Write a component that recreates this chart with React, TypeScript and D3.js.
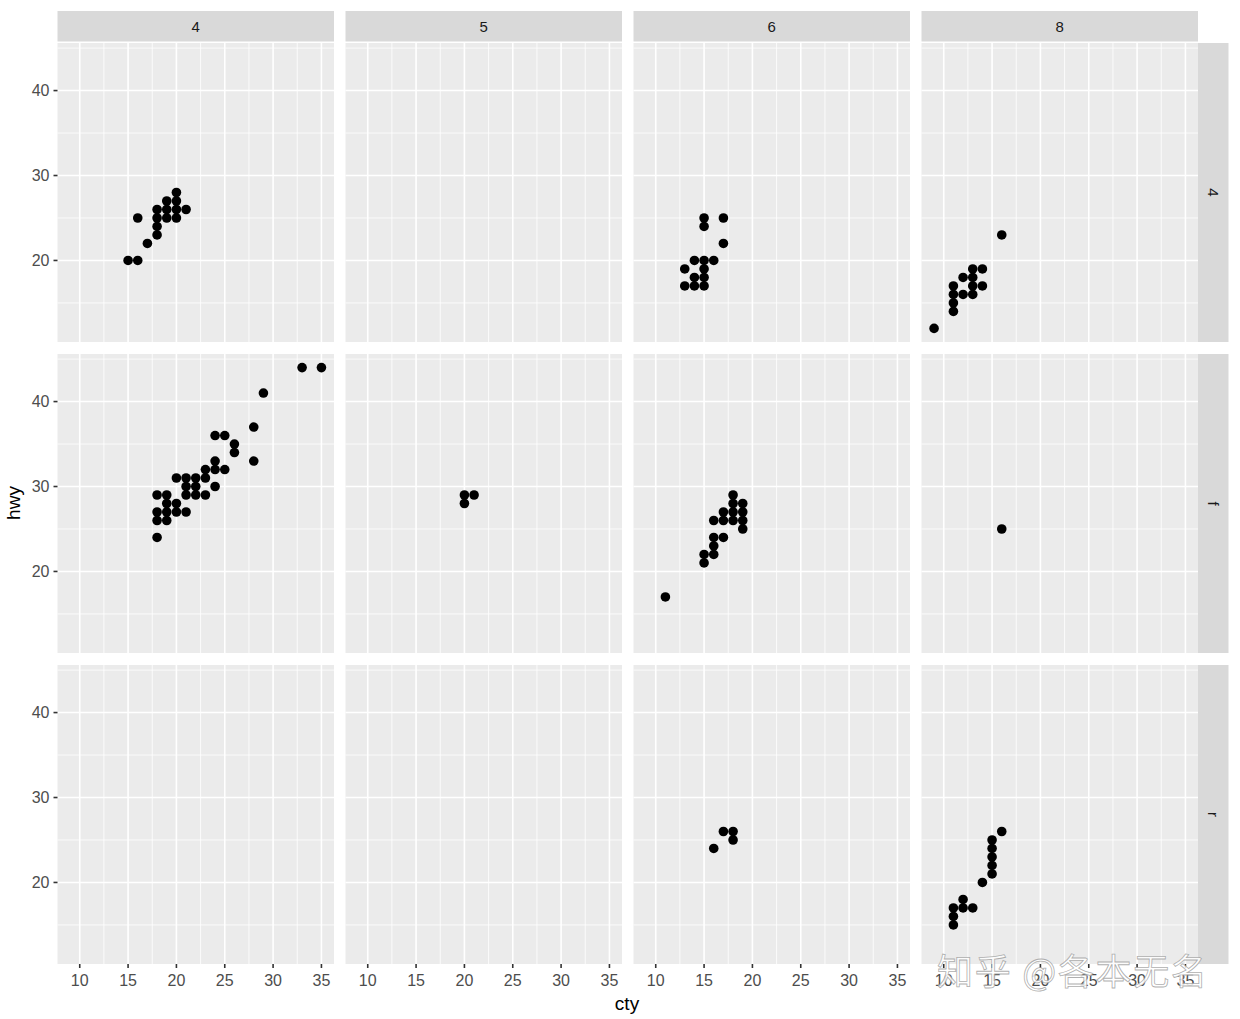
import React from 'react';
import * as d3 from 'd3';

// facet levels
const cylLevels = ['4', '5', '6', '8'];
const drvLevels = ['4', 'f', 'r'];

// [cty, hwy] per facet (unique points)
const cyl4_drv4 = [[15, 20], [16, 20], [16, 25], [17, 22], [18, 23], [18, 24], [18, 25], [18, 26], [19, 25], [19, 26], [19, 27], [20, 25], [20, 26], [20, 27], [20, 28], [21, 26]];
const cyl6_drv4 = [[13, 17], [13, 19], [14, 17], [14, 18], [14, 20], [15, 17], [15, 18], [15, 19], [15, 20], [15, 24], [15, 25], [16, 20], [17, 22], [17, 25]];
const cyl8_drv4 = [[9, 12], [11, 14], [11, 15], [11, 16], [11, 17], [12, 16], [12, 18], [13, 16], [13, 17], [13, 18], [13, 19], [14, 17], [14, 19], [16, 23]];
const cyl4_drvf = [[18, 24], [18, 26], [18, 27], [18, 29], [19, 26], [19, 27], [19, 28], [19, 29], [20, 27], [20, 28], [20, 31], [21, 27], [21, 29], [21, 30], [21, 31], [22, 29], [22, 30], [22, 31], [23, 29], [23, 31], [23, 32], [24, 30], [24, 32], [24, 33], [24, 36], [25, 32], [25, 36], [26, 34], [26, 35], [28, 33], [28, 37], [29, 41], [33, 44], [35, 44]];
const cyl5_drvf = [[20, 28], [20, 29], [21, 29]];
const cyl6_drvf = [[11, 17], [15, 21], [15, 22], [16, 22], [16, 23], [16, 24], [16, 26], [17, 24], [17, 26], [17, 27], [18, 26], [18, 27], [18, 28], [18, 29], [19, 25], [19, 26], [19, 27], [19, 28]];
const cyl8_drvf = [[16, 25]];
const cyl6_drvr = [[16, 24], [17, 26], [18, 25], [18, 26]];
const cyl8_drvr = [[11, 15], [11, 16], [11, 17], [12, 17], [12, 18], [13, 17], [14, 20], [15, 21], [15, 22], [15, 23], [15, 24], [15, 25], [16, 26]];

const xTicks = [10, 15, 20, 25, 30, 35];
const xMinor = [12.5, 17.5, 22.5, 27.5, 32.5];
const yTicks = [20, 30, 40];
const yMinor = [15, 25, 35, 45];

const facetData: Record<string, number[][]> = {
  '4|4': cyl4_drv4, '6|4': cyl6_drv4, '8|4': cyl8_drv4,
  '4|f': cyl4_drvf, '5|f': cyl5_drvf, '6|f': cyl6_drvf, '8|f': cyl8_drvf,
  '6|r': cyl6_drvr, '8|r': cyl8_drvr,
};

const W = 1240;
const H = 1019;
const panelLeft = 57.5;
const panelW = 276.5;
const colStep = 288;
const panelTop = 43;
const panelH = 299;
const rowStep = 311;
const font = '"Liberation Sans", Arial, Helvetica, sans-serif';

export default function App() {
  const x = d3.scaleLinear().domain([7.7, 36.3]).range([0, panelW]);
  const y = d3.scaleLinear().domain([10.4, 45.6]).range([panelH, 0]);

  return (
    <svg width={W} height={H} style={{ position: 'absolute', left: 0, top: 0, background: '#fff' }} fontFamily={font}>
      {/* column strips */}
      {cylLevels.map((c, i) => (
        <g key={'cs' + c} transform={`translate(${panelLeft + i * colStep},11)`}>
          <rect width={panelW} height={30.5} fill="#D9D9D9" />
          <text x={panelW / 2} y={21} textAnchor="middle" fontSize={15} fill="#1A1A1A">{c}</text>
        </g>
      ))}
      {/* row strips */}
      {drvLevels.map((d, j) => (
        <g key={'rs' + d} transform={`translate(1198,${panelTop + j * rowStep})`}>
          <rect width={30.5} height={panelH} fill="#D9D9D9" />
          <text transform={`translate(10,${panelH / 2}) rotate(90)`} textAnchor="middle" fontSize={15} fill="#1A1A1A">{d}</text>
        </g>
      ))}
      {drvLevels.map((d, j) =>
        cylLevels.map((c, i) => {
          const pts = facetData[c + '|' + d] || [];
          return (
            <g key={c + d} transform={`translate(${panelLeft + i * colStep},${panelTop + j * rowStep})`}>
              <rect width={panelW} height={panelH} fill="#EBEBEB" />
              {xMinor.map(v => <line key={'xm' + v} x1={x(v)} x2={x(v)} y1={0} y2={panelH} stroke="#fff" strokeWidth={0.8} />)}
              {yMinor.filter(v => v <= 45.6).map(v => <line key={'ym' + v} x1={0} x2={panelW} y1={y(v)} y2={y(v)} stroke="#fff" strokeWidth={0.8} />)}
              {xTicks.map(v => <line key={'xM' + v} x1={x(v)} x2={x(v)} y1={0} y2={panelH} stroke="#fff" strokeWidth={1.6} />)}
              {yTicks.map(v => <line key={'yM' + v} x1={0} x2={panelW} y1={y(v)} y2={y(v)} stroke="#fff" strokeWidth={1.6} />)}
              {pts.map((p, k) => <circle key={k} cx={x(p[0])} cy={y(p[1])} r={4.8} fill="#000" />)}
            </g>
          );
        })
      )}
      {/* y axes */}
      {drvLevels.map((d, j) => (
        <g key={'ya' + d} transform={`translate(${panelLeft},${panelTop + j * rowStep})`}>
          {yTicks.map(v => (
            <g key={v} transform={`translate(0,${y(v)})`}>
              <line x1={-4} x2={0} stroke="#333" strokeWidth={1.6} />
              <text x={-8} dy="0.35em" textAnchor="end" fontSize={16} fill="#4D4D4D">{v}</text>
            </g>
          ))}
        </g>
      ))}
      {/* x axes */}
      {cylLevels.map((c, i) => (
        <g key={'xa' + c} transform={`translate(${panelLeft + i * colStep},${panelTop + 2 * rowStep + panelH})`}>
          {xTicks.map(v => (
            <g key={v} transform={`translate(${x(v)},0)`}>
              <line y1={0} y2={4} stroke="#333" strokeWidth={1.6} />
              <text y={22} textAnchor="middle" fontSize={16} fill="#4D4D4D">{v}</text>
            </g>
          ))}
        </g>
      ))}
      <text x={627} y={1010} textAnchor="middle" fontSize={19} fill="#000">cty</text>
      <text transform="translate(20,503) rotate(-90)" textAnchor="middle" fontSize={19} fill="#000">hwy</text>
      {/* watermark */}
      <text x={937} y={985} fontSize={36} textLength={270} fontFamily='"Noto Sans CJK SC", sans-serif'
        fill="#fff" fillOpacity={0.85} stroke="#999" strokeWidth={0.8} strokeOpacity={0.8}>知乎 @各本无名</text>
    </svg>
  );
}
